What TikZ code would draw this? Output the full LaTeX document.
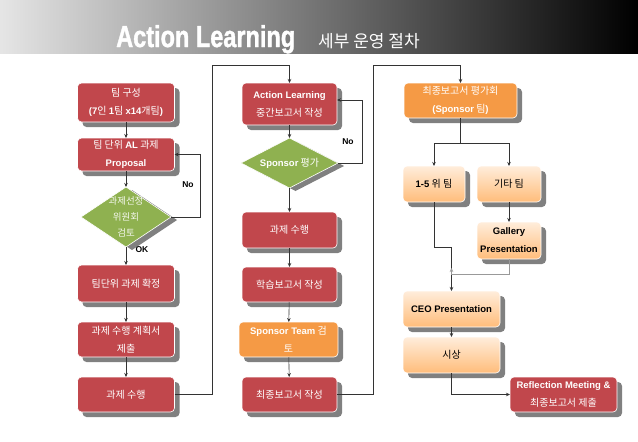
\documentclass[tikz,border=0pt]{standalone}
\usepackage{fontspec}
\setmainfont{Noto Sans CJK KR}
\newfontfamily\latfont{Liberation Sans}
\newfontfamily\titlefont[FakeBold=1.5]{Liberation Sans Bold}
\usetikzlibrary{shapes.geometric, shadows, arrows.meta}
\definecolor{boxred}{HTML}{C1474C}
\definecolor{boxorange}{HTML}{F59A45}
\definecolor{diagreen}{HTML}{8FB150}
\newcommand{\engl}[1]{{\latfont\bfseries\fontsize{9.5}{18}\selectfont #1}}

\begin{document}
\begin{tikzpicture}[x=1pt, y=-1pt, >={Stealth[length=4pt, width=3.5pt]}]
      \useasboundingbox (0,0) rectangle (638,442);
      \shade [left color=black!10, right color=black] (0,0) rectangle (638,53);
      \node [anchor=base west, inner sep=0, text=white, font=\titlefont\fontsize{28}{28}\selectfont] (T) at (116,47) {\scalebox{0.84}[1.08]{Action Learning}};
      \node [anchor=base west, inner sep=0, text=white, font=\fontsize{17}{17}\selectfont] (S) at (318,47) {세부 운영 절차};
      \begin{scope}[every node/.style={inner sep=0, outer sep=0, align=center, font=\fontsize{10}{18}\selectfont}, mybox/.style={draw=white, line width=0.6pt, rounded corners=4pt, drop shadow={shadow xshift=5pt, shadow yshift=-5pt, fill=black!50, opacity=1}}, redbox/.style={mybox, fill=boxred, text=white, minimum width=97, minimum height=35}, orangebox/.style={mybox, fill=boxorange, text=white}, peachbox/.style={mybox, top color=orange!14, bottom color=orange!52, text=black}, greendia/.style={diamond, draw=white, line width=0.6pt, fill=diagreen, drop shadow={shadow xshift=6pt, shadow yshift=-3pt, fill=black!50, opacity=1}}, link/.style={->, draw=black!80, line width=0.6pt}, glink/.style={->, draw=black!40, line width=0.6pt}, mylabel/.style={font=\latfont\bfseries\fontsize{8.5}{8.5}\selectfont}]
        \begin{scope}
          \node [redbox, minimum height=39] (L1) at (126,102.5) {팀 구성\\\engl{(7}인 \engl{1}팀 \engl{x14}개팀\engl{)}};
          \node [redbox, minimum height=33] (L2) at (126,154.5) {팀 단위 \engl{AL} 과제\\\engl{Proposal}};
          \node [greendia, minimum width=90, minimum height=60] (LD) at (126,217) {};
          \node [text=white!90!diagreen, font=\fontsize{9.5}{16}\selectfont] (LDt) at (LD) {과제선정\\위원회\\검토};
          \node [redbox, minimum height=37] (L3) at (126,283.5) {팀단위 과제 확정};
          \node [redbox] (L4) at (126,339.5) {과제 수행 계획서\\제출};
          \node [redbox] (L5) at (126,394.5) {과제 수행};
          \node [mylabel] (NoL) at (188,185) {No};
          \node [mylabel] (OK) at (142,250) {OK};
          \foreach \a/\b in {L1/L2, L2/LD, LD/L3, L3/L4, L4/L5} {\draw [link] (\a) -- (\b);};
          \draw [link] (LD.east) -- ++(29,0) |- (L2.east);
        \end{scope}
        \begin{scope}
          \coordinate (J1) at (212,65);
          \node [redbox, minimum width=95, minimum height=42] (M1) at (289.5,104) {\engl{Action Learning}\\중간보고서 작성};
          \node [greendia, minimum width=97, minimum height=50] (MD) at (289.5,163) {};
          \node [text=white] (MDt) at (MD) {\engl{Sponsor} 평가};
          \node [redbox, minimum width=95, minimum height=36] (M2) at (289.5,230) {과제 수행};
          \node [redbox, minimum width=95] (M3) at (289.5,284.5) {학습보고서 작성};
          \node [orangebox, minimum width=99, minimum height=35] (M4) at (288.5,339.5) {\engl{Sponsor Team} 검\\토};
          \node [redbox, minimum width=95] (M5) at (289.5,394.5) {최종보고서 작성};
          \node [mylabel] (NoM) at (348,142) {No};
          \foreach \a/\b in {M1/MD, MD/M2, M2/M3, M3/M4, M4/M5} {\draw [link] (\a) -- (\b);};
          \draw [link] (MD.east) -- ++(24,0) |- ([yshift=4pt]M1.east);
          \draw [link] (L5.east) -| (J1) -| (M1.north);
        \end{scope}
        \begin{scope}
          \coordinate (J2) at (373,65);
          \coordinate (J3) at (460.5,143);
          \coordinate (J4) at (451.5,247);
          \coordinate (J5) at (451.5,274);
          \node [orangebox, minimum width=113, minimum height=35] (R1) at (460.5,100.5) {최종보고서 평가회\\\engl{(Sponsor} 팀\engl{)}};
          \node [peachbox, minimum width=62, minimum height=36] (R2) at (434,184) {\engl{1-5} 위 팀};
          \node [peachbox, minimum width=64, minimum height=36] (R3) at (509,184) {기타 팀};
          \node [peachbox, minimum width=64, minimum height=37] (R4) at (509,240.5) {\engl{Gallery}\\\engl{Presentation}};
          \node [peachbox, minimum width=97, minimum height=36] (R5) at (451.5,309) {\engl{CEO Presentation}};
          \node [peachbox, minimum width=97, minimum height=36] (R6) at (451.5,355) {시상};
          \node [redbox, minimum width=107, minimum height=35] (R7) at (563.5,394.5) {\engl{Reflection Meeting \&}\\최종보고서 제출};
          \draw [link] (M5.east) -| (J2) -| (R1.north);
          \draw [draw=black!80, line width=0.6pt] (R1.south) -- (J3);
          \foreach \x in {R2,R3} {\draw [link] (J3) -| (\x.north);};
          \draw [link] (R3) -- (R4);
          \draw [link] (R2.south) |- (J4) -- (R5.north);
          \draw [glink] (R4.south) |- (J5) -- ++(0,-6);
          \draw [link] (R5) -- (R6);
          \draw [link] (R6.south) |- (R7.west);
        \end{scope}
      \end{scope}
    \end{tikzpicture}
\end{document}
